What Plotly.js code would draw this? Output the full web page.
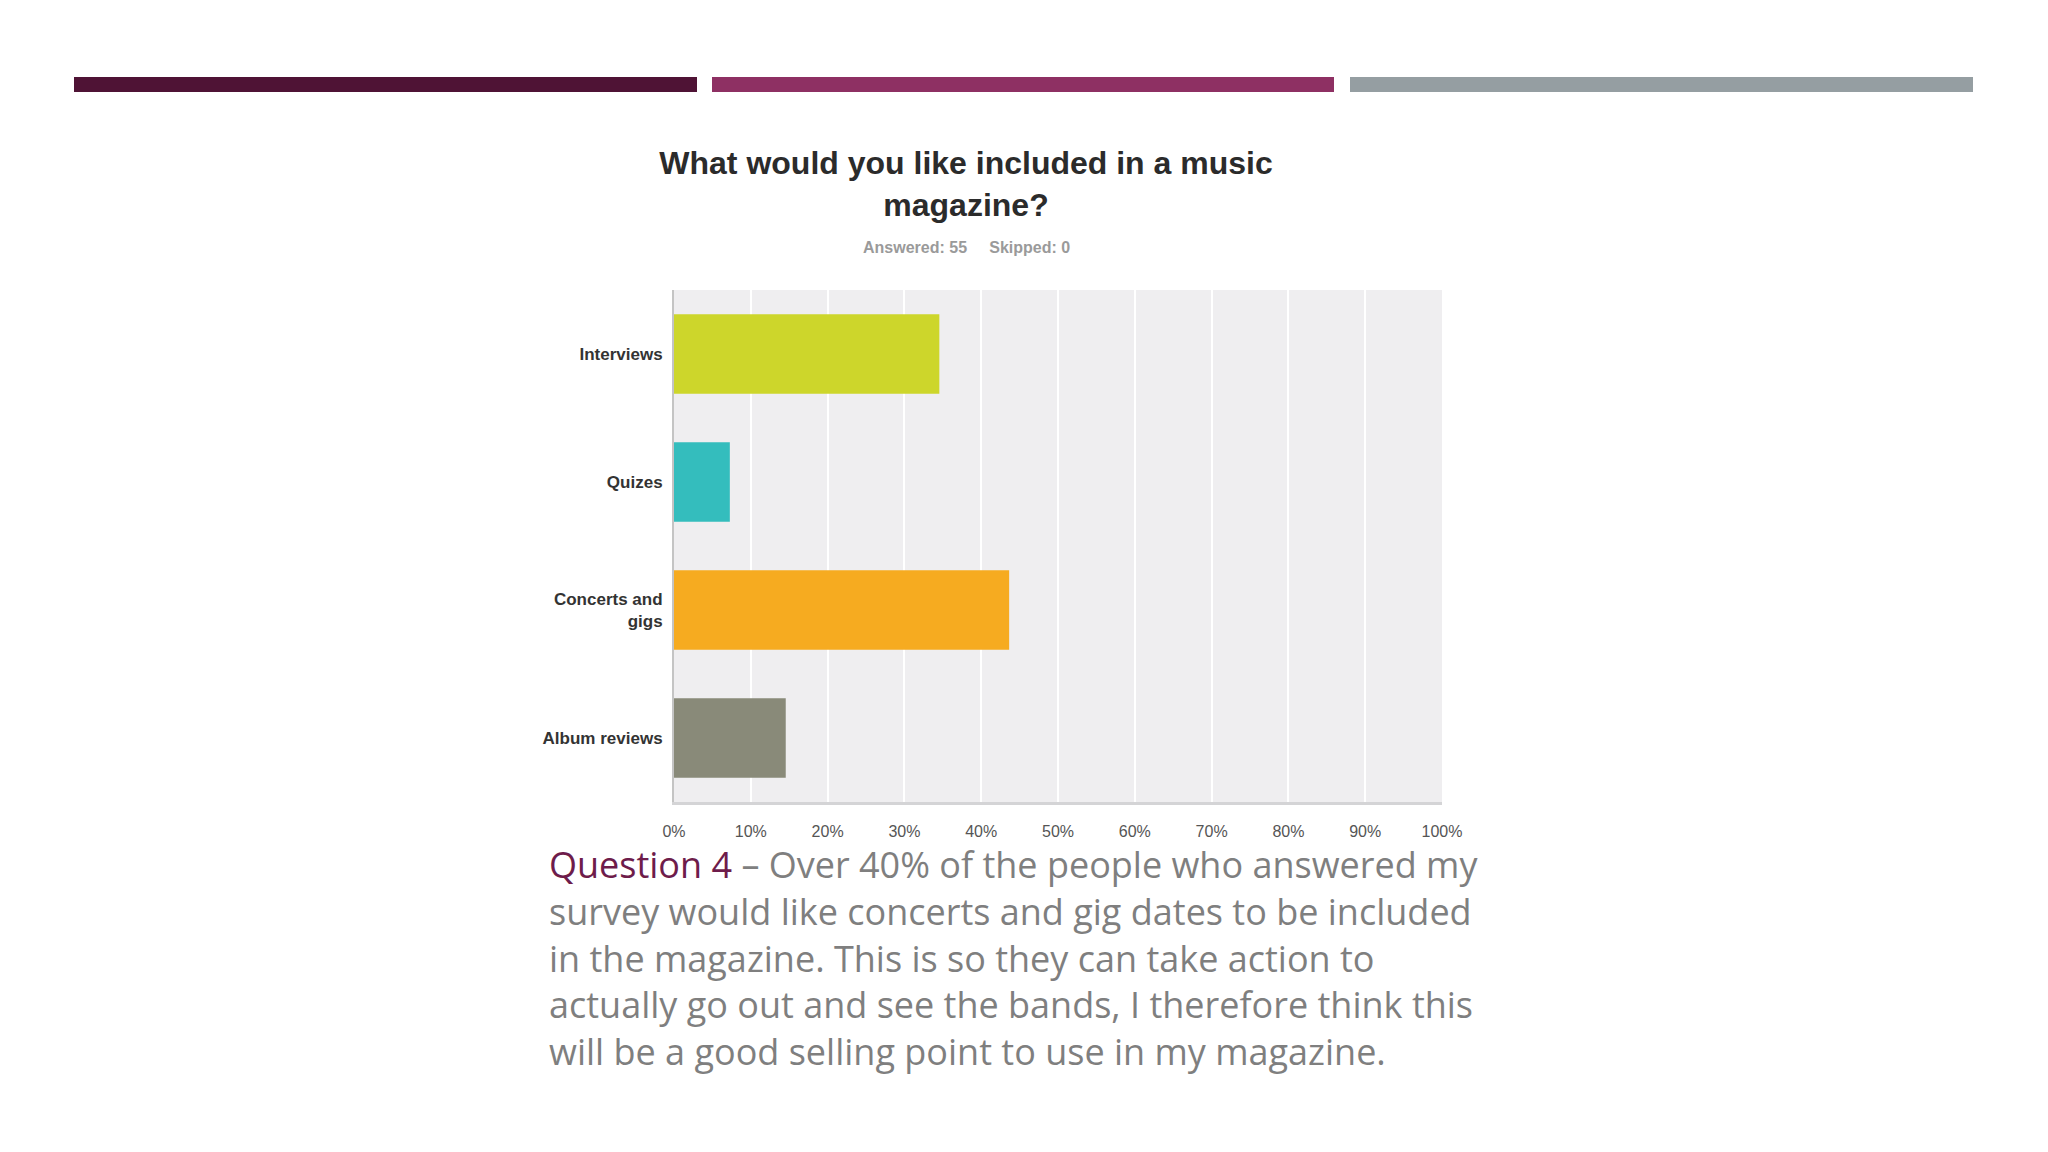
<!DOCTYPE html>
<html>
<head>
<meta charset="utf-8">
<script src="https://cdn.plot.ly/plotly-3.0.1.min.js"></script>
<style>
  html, body { margin: 0; padding: 0; background: #ffffff; }
  #chart { width: 2048px; height: 1152px; }
</style>
</head>
<body>
<div id="chart"></div>
<script>
// ---- data ----
const categories = ["Interviews", "Quizes", "Concerts and<br>gigs", "Album reviews"];
const percentages = [34.55, 7.27, 43.64, 14.55];
const barColors = ["#cdd62b", "#34bdbd", "#f6ab20", "#898a79"];
const tickValues = [0, 10, 20, 30, 40, 50, 60, 70, 80, 90, 100];
const tickLabels = ["0%", "10%", "20%", "30%", "40%", "50%", "60%", "70%", "80%", "90%", "100%"];
const answered = 55;
const skipped = 0;
const chartTitle = "What would you like included in a music<br>magazine?";
const bodyLines = [
  "<span style='color:#6e1c4b'>Question 4</span> – Over 40% of the people who answered my",
  "survey would like concerts and gig dates to be included",
  "in the magazine. This is so they can take action to",
  "actually go out and see the bands, I therefore think this",
  "will be a good selling point to use in my magazine."
];
const stripeColors = ["#4f1335", "#8e3063", "#959ea2"];

const trace = {
  type: "bar",
  orientation: "h",
  x: percentages,
  y: categories,
  marker: { color: barColors, line: { width: 0 } },
  hoverinfo: "x+y"
};

const W = 2048, H = 1152;
const stripeX = [[74, 697], [712, 1334], [1350, 1973]];
const shapes = stripeColors.map((c, i) => ({
  type: "rect", xref: "paper", yref: "paper",
  x0: (stripeX[i][0] - 674) / 768, x1: (stripeX[i][1] - 674) / 768,
  y0: (802 - 92) / 512, y1: (802 - 77) / 512,
  fillcolor: c, line: { width: 0 }, layer: "above"
}));

const layout = {
  width: W, height: H,
  margin: { l: 674, r: 606, t: 290, b: 350, pad: 0 },
  paper_bgcolor: "#ffffff",
  plot_bgcolor: "#efeef0",
  showlegend: false,
  bargap: 0.38,
  font: { family: "Liberation Sans, Arial, sans-serif", color: "#333333" },
  title: {
    text: "<b>" + chartTitle + "</b>",
    font: { family: "Liberation Sans, Arial, sans-serif", size: 32, color: "#2b2b2b" },
    x: 966 / W, xanchor: "center", xref: "container",
    y: 1 - 174 / H, yanchor: "top", yref: "container"
  },
  xaxis: {
    range: [0, 100],
    tickvals: tickValues,
    ticktext: tickLabels,
    showgrid: true, gridcolor: "#ffffff", gridwidth: 2,
    zeroline: false,
    showline: true, linecolor: "#d4d4d6", linewidth: 3,
    ticks: "",
    ticklabelstandoff: 13,
    tickfont: { family: "Liberation Sans, Arial, sans-serif", size: 16, color: "#555555" },
    fixedrange: true
  },
  yaxis: {
    type: "category",
    autorange: "reversed",
    showgrid: false, zeroline: false,
    showline: true, linecolor: "#c4c4c4", linewidth: 2,
    ticks: "",
    ticklabelstandoff: 6,
    tickfont: { family: "Liberation Sans, Arial, sans-serif", size: 17, color: "#333333", weight: "bold" },
    fixedrange: true
  },
  shapes: shapes,
  annotations: [
    {
      text: "<b>Answered: " + answered + "&nbsp;&nbsp;&nbsp;&nbsp; Skipped: " + skipped + "</b>",
      xref: "paper", yref: "paper",
      x: (966 - 674) / 768, y: (802 - 247) / 512,
      xanchor: "center", yanchor: "middle", showarrow: false,
      font: { family: "Liberation Sans, Arial, sans-serif", size: 16, color: "#9a9a9a" }
    },
    {
      text: bodyLines.join("<br>"),
      xref: "paper", yref: "paper",
      x: (547 - 674) / 768, y: (802 - 838) / 512,
      xanchor: "left", yanchor: "top", align: "left", showarrow: false,
      font: { family: "Open Sans, Noto Sans, sans-serif", size: 36, color: "#7f7f7f" }
    }
  ]
};

Plotly.newPlot("chart", [trace], layout, { displayModeBar: false, staticPlot: true });
</script>
</body>
</html>
